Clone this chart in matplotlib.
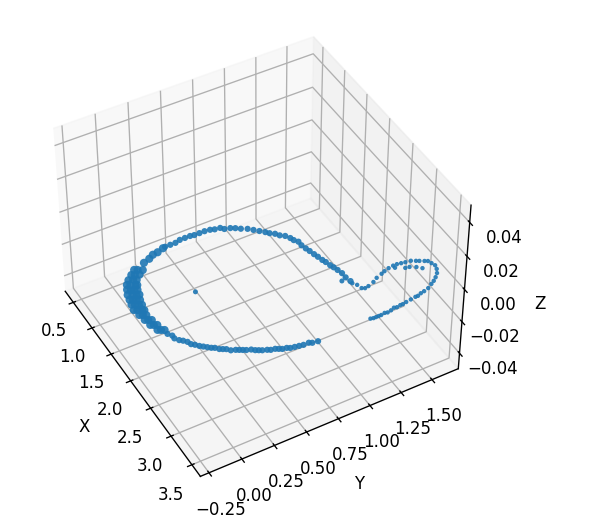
import numpy as np
import matplotlib
matplotlib.use('Agg')
import matplotlib.pyplot as plt

# valeurs, par morceau de la courbe
queue_x = [3.58,3.59,3.59,3.59,3.59,3.58,3.59,3.58,3.56,3.57,3.56,3.56,3.55,3.54,3.53,3.53,3.51,3.50,3.48,3.44,
           3.41,3.37,3.32,3.26,3.20,3.15,3.10,3.08,3.05,3.03,3.00,2.99,2.98,2.97,2.97,2.98,3.00,3.02,3.05,3.09,
           3.12,3.13,3.11,3.04,2.99,3.12,3.08,3.07,3.01,3.17]
queue_y = [1.02,1.04,1.06,1.08,1.10,1.13,1.15,1.18,1.21,1.23,1.26,1.28,1.31,1.35,1.39,1.41,1.44,1.47,1.51,1.55,
           1.58,1.61,1.64,1.66,1.67,1.66,1.65,1.63,1.60,1.58,1.55,1.51,1.48,1.45,1.42,1.38,1.34,1.31,1.26,1.22,
           1.17,1.14,1.12,1.11,1.09,1.55,1.51,1.48,1.42,1.58]
montee_x = [2.95,2.87,2.79,2.72,2.66,2.61,2.54,2.49,2.42,2.36,2.29,2.23,2.16,2.09,2.04,1.99,1.93,1.89,1.84,1.80,
            1.76,1.71,1.66,1.61,1.57,1.53,1.50,1.48,1.44,1.43,1.41,1.40,1.40,1.40,1.39,1.39,1.39,1.41,1.41,1.41]
montee_y = [1.09,1.08,1.08,1.07,1.06,1.05,1.04,1.03,1.02,1.01,1.00,0.99,0.98,0.98,0.96,0.95,0.93,0.90,0.88,0.85,
            0.83,0.80,0.77,0.74,0.70,0.67,0.64,0.60,0.58,0.54,0.51,0.47,0.43,0.39,0.36,0.32,0.28,0.24,0.20,0.16]
gauche_x = [1.42,1.45,1.46,1.50,1.53,1.58,1.60,1.63,1.64,1.66,1.68,1.70,1.72,1.74,1.76,1.78,1.81,1.82,1.83,1.86,
            1.88,1.89,1.91,1.93,1.96,1.97,1.99,2.01,2.03,2.05,2.07,2.09,2.12,2.13,2.16,2.18,2.20,2.22,2.26,2.28,
            2.30,2.36,2.38,2.40,2.46,2.48,2.50,2.57,2.59,2.61]
gauche_y = [0.14,0.09,0.05,0.01,-0.04,-0.13,-0.11,-0.08,-0.17,-0.15,-0.12,-0.21,-0.18,-0.16,-0.24,-0.22,-0.19,-0.18,-0.26,-0.24,
            -0.22,-0.20,-0.28,-0.25,-0.23,-0.21,-0.29,-0.27,-0.25,-0.23,-0.30,-0.28,-0.26,-0.24,-0.31,-0.29,-0.26,-0.25,-0.30,-0.28,
            -0.26,-0.29,-0.27,-0.25,-0.28,-0.26,-0.24,-0.26,-0.24,-0.22]
bas_x = [2.68,2.73,2.78,2.83,2.86,2.90,2.95,2.98,3.02,3.05,3.08,3.11,3.13,3.17,3.19,3.21,3.25,3.27,3.29,3.31,
         3.33,3.35,3.38,3.40,3.42,3.44,3.46,3.47,3.49,3.51,3.52,3.54,3.55,3.56,3.57,3.57,3.59,3.60]
bas_y = [-0.22,-0.20,-0.20,-0.18,-0.16,-0.14,-0.13,-0.11,-0.09,-0.07,-0.05,-0.03,-0.01,0.01,0.03,0.05,0.07,0.10,0.12,0.14,
         0.16,0.19,0.21,0.23,0.25,0.28,0.30,0.33,0.35,0.37,0.40,0.42,0.45,0.48,0.51,0.55,0.57,0.61]
isoles_x = [2.24,2.90]
isoles_y = [0.13,1.04]

morceaux = [(queue_x, queue_y, 7), (montee_x, montee_y, 14), (gauche_x, gauche_y, 24),
            (bas_x, bas_y, 14), (isoles_x, isoles_y, 9)]
x = np.concatenate([m[0] for m in morceaux])
y = np.concatenate([m[1] for m in morceaux])
tailles = np.concatenate([np.full(len(m[0]), m[2]) for m in morceaux])
z = np.zeros(len(x))

fig = plt.figure(figsize=(591/120, 531/120), dpi=120)
ax = fig.add_axes([0.036, 0.082, 0.782, 0.87], projection='3d')
ax.view_init(elev=43, azim=-29.4)
ax.scatter(x, y, z, s=tailles, depthshade=False, alpha=0.9, linewidths=0)
ax.set_xlim(0.28, 3.70)
ax.set_ylim(-0.315, 1.715)
ax.set_zlim(-0.05, 0.05)
ax.set_xlabel('X', labelpad=5)
ax.set_ylabel('Y', labelpad=5)
ax.set_zlabel('Z', labelpad=5)
fig.savefig('out.png', dpi=120)
